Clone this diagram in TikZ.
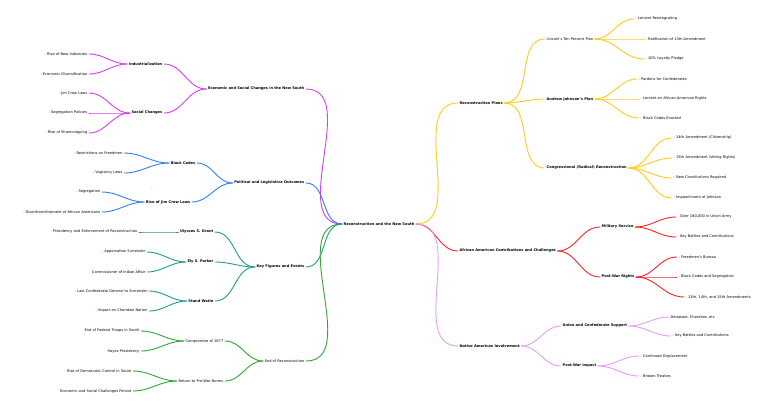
\documentclass[tikz,border=0pt]{standalone}
\usepackage{fontspec}
\setmainfont{DejaVu Sans}
\begin{document}
\begin{tikzpicture}[x=1pt,y=-1pt,
  every node/.style={font=\fontsize{3.6}{4}\selectfont,inner sep=1.5pt},
  L/.style={anchor=east}, R/.style={anchor=west},
  B/.style={font=\fontsize{3.6}{4}\selectfont\bfseries},
  ln/.style={line width=0.9pt,line cap=round}]
\definecolor{cP}{HTML}{D63CF2}\definecolor{cB}{HTML}{2F7FF0}
\definecolor{cT}{HTML}{1E9C88}\definecolor{cG}{HTML}{2EA82E}
\definecolor{cY}{HTML}{FFCA1A}\definecolor{cR}{HTML}{FF2020}
\definecolor{cV}{HTML}{E49CF7}
\useasboundingbox (0,0) rectangle (768,410);
\node[B] (root) at (379,224) {Reconstruction and the New South};
% left level 1
\node[B,L] (econ) at (306,89) {Economic and Social Changes in the New South};
\node[B,L] (pol) at (306,183) {Political and Legislative Outcomes};
\node[B,L] (key) at (306,267) {Key Figures and Events};
\node[L] (end) at (306,361) {End of Reconstruction};
% left level 2
\node[B,L] (ind) at (164,64) {Industrialization};
\node[B,L] (soc) at (164,113) {Social Changes};
\node[B,L] (bc) at (197,163) {Black Codes};
\node[B,L] (jc) at (192,202) {Rise of Jim Crow Laws};
\node (dash) at (152,190) {-};
\node[B,L] (grant) at (215,232) {Ulysses S. Grant};
\node[B,L] (park) at (215,262) {Ely S. Parker};
\node[B,L] (watie) at (215,301) {Stand Watie};
\node[L] (comp) at (225,341) {Compromise of 1877};
\node[L] (ret) at (225,381) {Return to Pre-War Norms};
% left leaves
\node[L] (a1) at (89,54) {- Rise of New Industries};
\node[L] (a2) at (89,74) {- Economic Diversification};
\node[L] (b1) at (89,93) {- Jim Crow Laws};
\node[L] (b2) at (89,113) {- Segregation Policies};
\node[L] (b3) at (89,133) {- Rise of Sharecropping};
\node[L] (c1) at (124,153) {- Restrictions on Freedmen};
\node[L] (c2) at (124,173) {- Vagrancy Laws};
\node[L] (d1) at (102,192) {- Segregation};
\node[L] (d2) at (102,212) {- Disenfranchisement of African Americans};
\node[L] (e1) at (139,232) {- Presidency and Enforcement of Reconstruction};
\node[L] (f1) at (147,252) {- Appomattox Surrender};
\node[L] (f2) at (147,272) {Commissioner of Indian Affair};
\node[L] (g1) at (149,291) {- Last Confederate General to Surrender};
\node[L] (g2) at (149,311) {- Impact on Cherokee Nation};
\node[L] (h1) at (141,331) {End of Federal Troops in South};
\node[L] (h2) at (141,351) {Hayes Presidency};
\node[L] (i1) at (133,371) {Rise of Democratic Control in South};
\node[L] (i2) at (133,391) {Economic and Social Challenges Persist};
% right level 1
\node[B,R] (plans) at (458,103) {Reconstruction Plans};
\node[B,R] (afr) at (458,251) {African American Contributions and Challenges};
\node[B,R] (nat) at (458,346) {Native American Involvement};
% right level 2
\node[R] (lin) at (545,39) {Lincoln's Ten Percent Plan};
\node[B,R] (joh) at (545,99) {Andrew Johnson's Plan};
\node[B,R] (con) at (545,168) {Congressional (Radical) Reconstruction};
\node[B,R] (mil) at (600,227) {Military Service};
\node[B,R] (pwr) at (600,277) {Post-War Rights};
\node[B,R] (uni) at (561,326) {Union and Confederate Support};
\node[B,R] (pwi) at (561,366) {Post-War Impact};
% right leaves
\node[R] (j1) at (634,19) {- Lenient Reintegrating};
\node[R] (j2) at (644,39) {- Ratification of 13th Amendment};
\node[R] (j3) at (644,59) {- 10\% Loyalty Pledge};
\node[R] (k1) at (637,79) {- Pardons for Confederates};
\node[R] (k2) at (639,99) {- Lenient on African American Rights};
\node[R] (k3) at (639,118) {- Black Codes Enacted};
\node[R] (l1) at (672,138) {- 14th Amendment (Citizenship)};
\node[R] (l2) at (672,158) {- 15th Amendment (Voting Rights)};
\node[R] (l3) at (672,178) {- New Constitutions Required};
\node[R] (l4) at (672,198) {- Impeachment of Johnson};
\node[R] (m1) at (676,217) {- Over 180,000 in Union Army};
\node[R] (m2) at (676,237) {- Key Battles and Contributions};
\node[R] (n1) at (677,257) {- Freedmen's Bureau};
\node[R] (n2) at (677,277) {- Black Codes and Segregation};
\node[R] (n3) at (684,297) {- 13th, 14th, and 15th Amendments};
\node[R] (o1) at (669,317) {Delaware, Cherokee, etc};
\node[R] (o2) at (671,336) {- Key Battles and Contributions};
\node[R] (p1) at (639,356) {- Continued Displacement};
\node[R] (p2) at (639,376) {- Broken Treaties};
% connectors
\newcommand\lk[3]{\draw[ln,#3] (#1.east) to[out=0,in=180] (#2.west);}
\lk{econ}{root}{cP}\lk{pol}{root}{cB}\lk{key}{root}{cT}\lk{end}{root}{cG}
\lk{ind}{econ}{cP}\lk{soc}{econ}{cP}
\lk{a1}{ind}{cP}\lk{a2}{ind}{cP}\lk{b1}{soc}{cP}\lk{b2}{soc}{cP}\lk{b3}{soc}{cP}
\lk{bc}{pol}{cB}\lk{jc}{pol}{cB}
\lk{c1}{bc}{cB}\lk{c2}{bc}{cB}\lk{d1}{jc}{cB}\lk{d2}{jc}{cB}
\lk{grant}{key}{cT}\lk{park}{key}{cT}\lk{watie}{key}{cT}
\lk{e1}{grant}{cT}\lk{f1}{park}{cT}\lk{f2}{park}{cT}\lk{g1}{watie}{cT}\lk{g2}{watie}{cT}
\lk{comp}{end}{cG}\lk{ret}{end}{cG}
\lk{h1}{comp}{cG}\lk{h2}{comp}{cG}\lk{i1}{ret}{cG}\lk{i2}{ret}{cG}
\lk{root}{plans}{cY}\lk{root}{afr}{cR}\lk{root}{nat}{cV}
\lk{plans}{lin}{cY}\lk{plans}{joh}{cY}\lk{plans}{con}{cY}
\lk{lin}{j1}{cY}\lk{lin}{j2}{cY}\lk{lin}{j3}{cY}
\lk{joh}{k1}{cY}\lk{joh}{k2}{cY}\lk{joh}{k3}{cY}
\lk{con}{l1}{cY}\lk{con}{l2}{cY}\lk{con}{l3}{cY}\lk{con}{l4}{cY}
\lk{afr}{mil}{cR}\lk{afr}{pwr}{cR}
\lk{mil}{m1}{cR}\lk{mil}{m2}{cR}\lk{pwr}{n1}{cR}\lk{pwr}{n2}{cR}\lk{pwr}{n3}{cR}
\lk{nat}{uni}{cV}\lk{nat}{pwi}{cV}
\lk{uni}{o1}{cV}\lk{uni}{o2}{cV}\lk{pwi}{p1}{cV}\lk{pwi}{p2}{cV}
\end{tikzpicture}
\end{document}
